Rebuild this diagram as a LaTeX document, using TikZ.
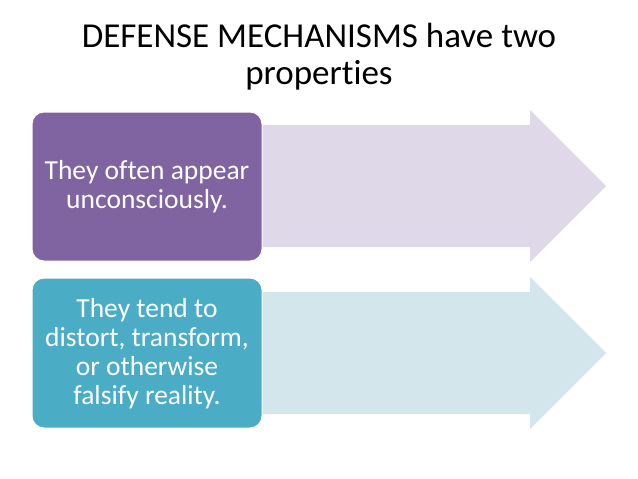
\documentclass[tikz,border=0pt]{standalone}
\usepackage{fontspec}
\setmainfont[RawFeature={-liga;-clig}]{Carlito}
\definecolor{pbox}{HTML}{8064A2}
\definecolor{parr}{HTML}{DED8E8}
\definecolor{bbox}{HTML}{4BACC6}
\definecolor{barr}{HTML}{D2E6EB}
\begin{document}
\begin{tikzpicture}[x=1pt,y=-1pt,
  box/.style={rounded corners=12pt,draw=white,line width=1pt},
  txt/.style={text=white,align=center,font=\fontsize{27.5}{29}\selectfont}]
\useasboundingbox[fill=white] (0,0) rectangle (638,479);
\node[font=\fontsize{35}{37}\selectfont,align=center] (title) at (319,57) {DEFENSE MECHANISMS have two\\properties};
\fill[parr] (150,125) -- (530,125) -- (530,110) -- (606,186) -- (530,262) -- (530,247) -- (150,247) -- cycle;
\fill[barr] (150,292) -- (530,292) -- (530,277) -- (606,353) -- (530,429) -- (530,414) -- (150,414) -- cycle;
\path[box,fill=pbox] (32,112) rectangle (262,261);
\node[txt] (t1) at (147,187) {They often appear\\unconsciously.};
\path[box,fill=bbox] (32,278) rectangle (262,428);
\node[txt] (t2) at (147,354) {They tend to\\distort, transform,\\or otherwise\\falsify reality.};
\end{tikzpicture}
\end{document}
